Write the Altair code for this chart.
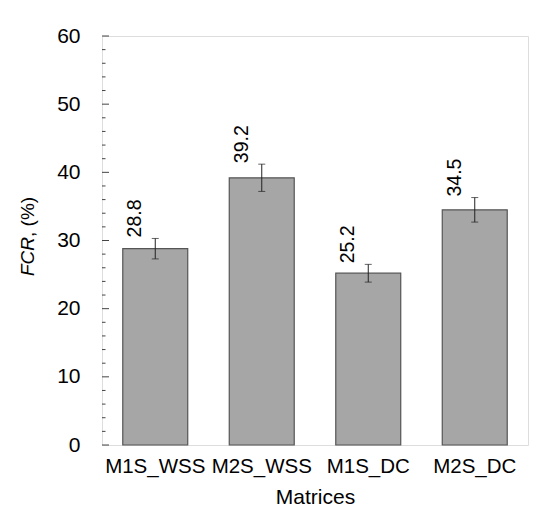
import altair as alt
import pandas as pd

categories = ["M1S_WSS", "M2S_WSS", "M1S_DC", "M2S_DC"]
values = [28.8, 39.2, 25.2, 34.5]
errors = [1.5, 2.0, 1.3, 1.8]
labels = ["28.8", "39.2", "25.2", "34.5"]
major_ticks = [0, 10, 20, 30, 40, 50, 60]
minor_ticks = [2, 4, 6, 8, 12, 14, 16, 18, 22, 24, 26, 28, 32, 34, 36, 38,
               42, 44, 46, 48, 52, 54, 56, 58]

FONT = "Liberation Sans"

df = pd.DataFrame({
    "cat": categories,
    "value": values,
    "lo": [v - e for v, e in zip(values, errors)],
    "hi": [v + e for v, e in zip(values, errors)],
    "label": labels,
})
maj = pd.DataFrame({"t": major_ticks})
mnr = pd.DataFrame({"t": minor_ticks})

xenc = alt.X(
    "cat:N", sort=categories,
    scale=alt.Scale(paddingInner=0.39, paddingOuter=0.195),
    axis=alt.Axis(title="Matrices", labelAngle=0, ticks=False, tickSize=0,
                  domain=False, labelPadding=11, titlePadding=10,
                  labelFont=FONT, titleFont=FONT, labelFontSize=20.5,
                  titleFontSize=21, labelColor="#000", titleColor="#000",
                  titleFontWeight="normal"),
)
yscale = alt.Scale(domain=[0, 60], nice=False, zero=True)
yaxis = alt.Axis(title="", values=major_ticks, ticks=False, tickSize=0,
                 domain=False, grid=False, labelPadding=22, labelFont=FONT,
                 labelFontSize=21, labelColor="#000")

base = alt.Chart(df)

bars = base.mark_bar(color="#a6a6a6", stroke="#555555", strokeWidth=1.2).encode(
    x=xenc,
    y=alt.Y("value:Q", scale=yscale, axis=yaxis),
)

err = base.mark_rule(color="#222222", strokeWidth=1).encode(
    x=alt.X("cat:N", sort=categories),
    y="lo:Q", y2="hi:Q",
)
cap_hi = base.mark_tick(color="#222222", thickness=1, size=7).encode(
    x=alt.X("cat:N", sort=categories), y="hi:Q")
cap_lo = base.mark_tick(color="#222222", thickness=1, size=7).encode(
    x=alt.X("cat:N", sort=categories), y="lo:Q")

txt = base.mark_text(angle=270, align="left", baseline="middle", dy=-20, dx=1,
                     font=FONT, fontSize=19.5, color="#000").encode(
    x=alt.X("cat:N", sort=categories), y="hi:Q", text="label:N")

tick_major = alt.Chart(maj).mark_rule(color="#444444", strokeWidth=1).encode(
    y="t:Q", x=alt.value(0), x2=alt.value(7))
tick_minor = alt.Chart(mnr).mark_rule(color="#444444", strokeWidth=1).encode(
    y="t:Q", x=alt.value(0), x2=alt.value(3.5))

title_df = pd.DataFrame({"a": ["FCR"], "b": [", (%)"]})
t1 = alt.Chart(title_df).mark_text(angle=270, align="right", baseline="middle",
                                   font=FONT, fontSize=19, fontStyle="italic",
                                   color="#000").encode(
    text="a:N", x=alt.value(-74), y=alt.value(201))
t2 = alt.Chart(title_df).mark_text(angle=270, align="left", baseline="middle",
                                   font=FONT, fontSize=19, color="#000").encode(
    text="b:N", x=alt.value(-74), y=alt.value(201))

chart = alt.layer(bars, err, cap_hi, cap_lo, txt, tick_major, tick_minor, t1, t2).properties(
    width=426, height=409,
    autosize=alt.AutoSizeParams(type="none"),
    padding={"left": 94, "top": 28, "right": 14, "bottom": 72},
).configure_view(stroke="#666666", strokeWidth=1.3).configure(background="white")

chart.save("out.html", embed_options={"renderer": "svg", "actions": False})
